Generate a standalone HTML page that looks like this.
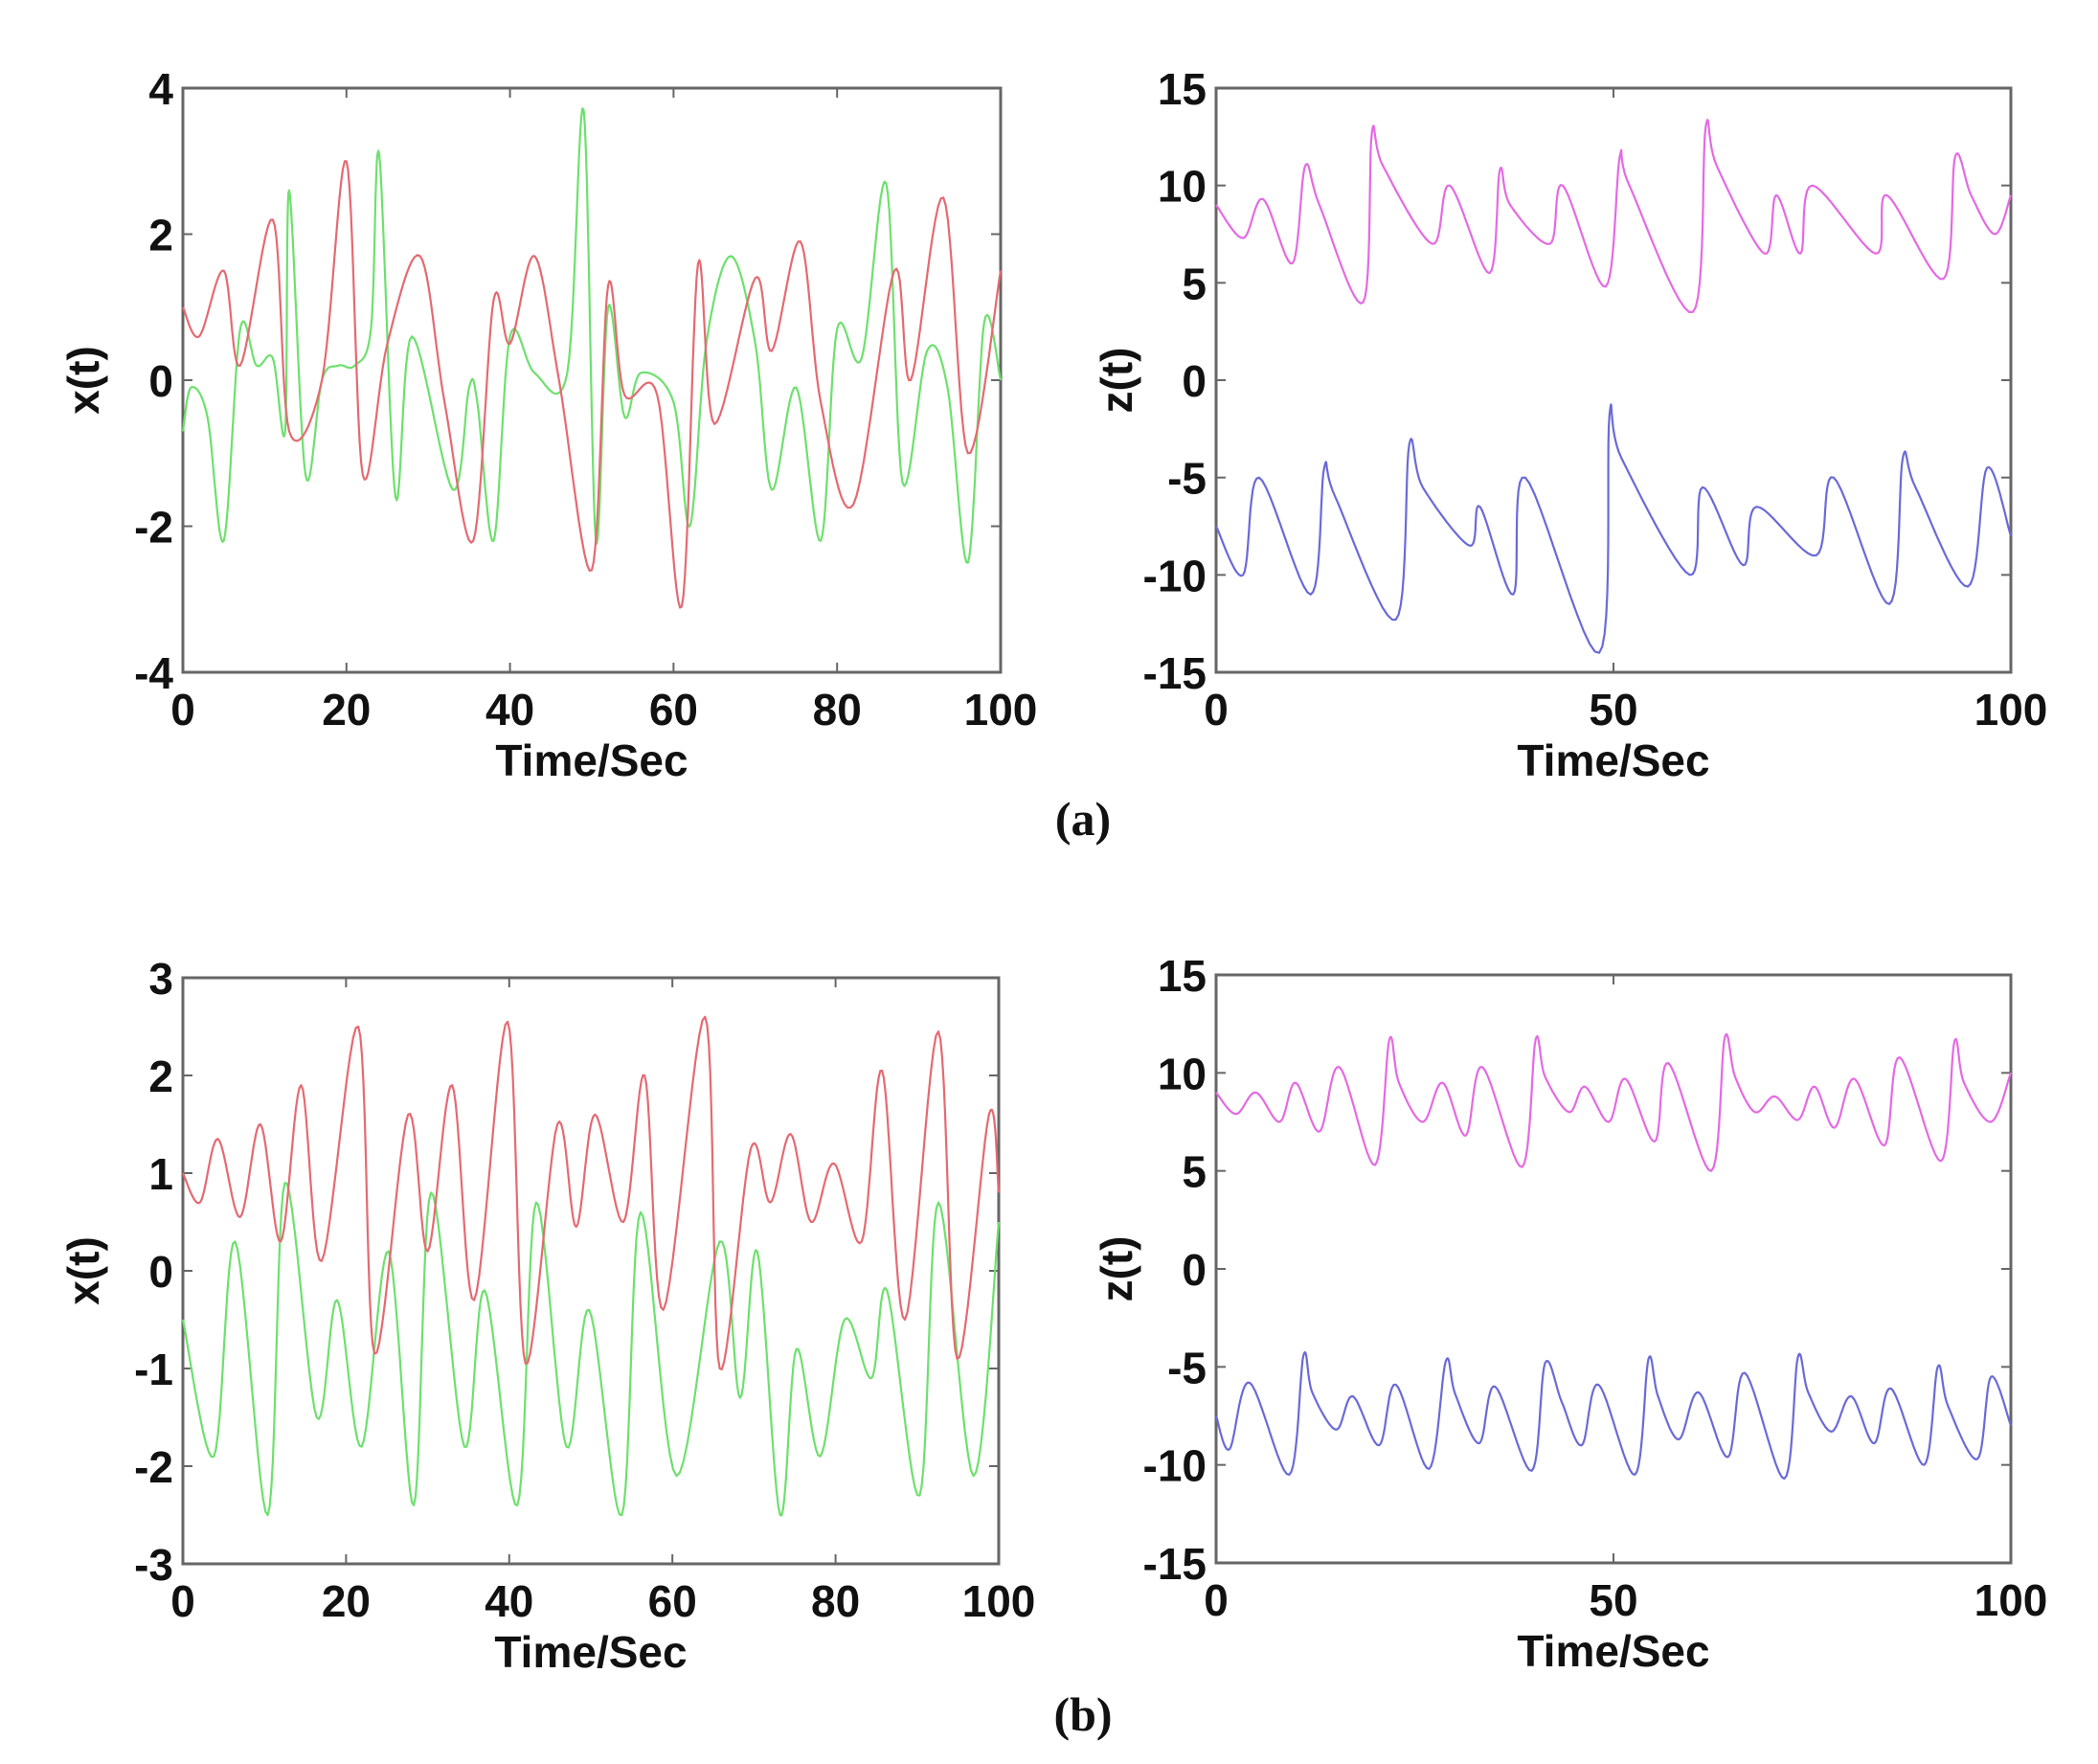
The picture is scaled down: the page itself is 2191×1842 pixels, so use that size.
<!DOCTYPE html>
<html><head><meta charset="utf-8"><style>
html,body{margin:0;padding:0;background:#fff;}
svg{display:block;}
text{font-family:"Liberation Sans",Arial,sans-serif;font-weight:bold;fill:#111;}
.cap{font-family:"Liberation Serif",serif;font-weight:bold;}
</style></head><body>
<svg id="s" width="2191" height="1842" viewBox="0 0 2191 1842" xmlns="http://www.w3.org/2000/svg"></svg>
<script>
const S=document.getElementById('s');const NS='http://www.w3.org/2000/svg';
function el(n,a,t){const e=document.createElementNS(NS,n);for(const k in a)e.setAttribute(k,a[k]);if(t!==undefined)e.textContent=t;S.appendChild(e);return e;}
function axes(o){
 const {x0,x1,y0,y1,xmin,xmax,ymin,ymax,xt,yt,ylab}=o;
 const X=v=>x0+(v-xmin)/(xmax-xmin)*(x1-x0), Y=v=>y1-(v-ymin)/(ymax-ymin)*(y1-y0);
 o.X=X;o.Y=Y;
 el('rect',{x:x0,y:y0,width:x1-x0,height:y1-y0,fill:'#fff',stroke:'#666','stroke-width':3});
 xt.forEach(v=>{el('line',{x1:X(v),x2:X(v),y1:y1,y2:y1-10,stroke:'#666','stroke-width':2});el('line',{x1:X(v),x2:X(v),y1:y0,y2:y0+10,stroke:'#666','stroke-width':2});
  el('text',{x:X(v),y:y1+55,'font-size':46,'text-anchor':'middle'},v);});
 yt.forEach(v=>{el('line',{x1:x0,x2:x0+10,y1:Y(v),y2:Y(v),stroke:'#666','stroke-width':2});el('line',{x1:x1,x2:x1-10,y1:Y(v),y2:Y(v),stroke:'#666','stroke-width':2});
  el('text',{x:x0-10,y:Y(v)+17,'font-size':46,'text-anchor':'end'},v);});
 el('text',{x:(x0+x1)/2,y:y1+108,'font-size':46,'text-anchor':'middle'},'Time/Sec');
 const cy=(y0+y1)/2, cx=x0-88;
 el('text',{x:cx,y:cy,'font-size':46,'text-anchor':'middle',transform:`rotate(-90 ${cx} ${cy})`},ylab);
 return o;
}
function series(o,pts,col){
 let d='';const P=pts;
 for(let i=0;i<P.length-1;i++){
  const p0=P[Math.max(0,i-1)],p1=P[i],p2=P[i+1],p3=P[Math.min(P.length-1,i+2)];
  for(let s=0;s<12;s++){const t=s/12,t2=t*t,t3=t2*t;
   const f=(a,b,c,e)=>0.5*((2*b)+(-a+c)*t+(2*a-5*b+4*c-e)*t2+(-a+3*b-3*c+e)*t3);
   let tx=f(p0[0],p1[0],p2[0],p3[0]),ty=f(p0[1],p1[1],p2[1],p3[1]);
   d+=(d?'L':'M')+o.X(tx).toFixed(1)+','+o.Y(ty).toFixed(1);}
 }
 const L=P[P.length-1];d+='L'+o.X(L[0]).toFixed(1)+','+o.Y(L[1]).toFixed(1);
 el('path',{d:d,fill:'none',stroke:col,'stroke-width':2.2,'stroke-linejoin':'round'});
}
const R='#e46a72',G='#6ee06e',M='#e46ae4',B='#6a6ad8';
let a1=axes({x0:191,x1:1045,y0:92,y1:702,xmin:0,xmax:100,ymin:-4,ymax:4,xt:[0,20,40,60,80,100],yt:[4,2,0,-2,-4],ylab:'x(t)'});
series(a1,[[0,-0.7],[1,-0.1],[3,-0.5],[5,-2.2],[7,0.7],[9,0.2],[11,0.3],[12.5,-0.7],[13,2.6],[15,-1.3],[17,0],[19,0.2],[21,0.2],[23,0.7],[24,3.1],[26,-1.6],[28,0.6],[33,-1.5],[35,-0.1],[36,-0.3],[38,-2.2],[40,0.6],[43,0.1],[47,0.1],[49,3.7],[50.5,-2.2],[52,1],[54,-0.5],[56,0.1],[60,-0.3],[62,-2],[64,0.5],[67,1.7],[70,0.5],[72,-1.5],[75,-0.1],[78,-2.2],[80,0.7],[83,0.3],[86,2.7],[88,-1.4],[91,0.4],[93.5,-0.1],[96,-2.5],[98,0.8],[100,0]],G);
series(a1,[[0,1],[2,0.6],[5,1.5],[7,0.2],[11,2.2],[13,-0.7],[17,0],[20,3],[22,-1.3],[25,0.5],[29,1.7],[32,-0.3],[35.5,-2.2],[38,1.1],[40,0.5],[43,1.7],[46,0],[50,-2.6],[52,1.3],[54,-0.2],[58,-0.2],[61,-3.1],[63,1.6],[65,-0.6],[70,1.4],[72,0.4],[75.5,1.9],[78,-0.3],[82,-1.7],[87,1.5],[89,0],[93,2.5],[96,-1],[100,1.5]],R);
let a2=axes({x0:1270,x1:2100,y0:92,y1:702,xmin:0,xmax:100,ymin:-15,ymax:15,xt:[0,50,100],yt:[15,10,5,0,-5,-10,-15],ylab:'z(t)'});
series(a2,[[0,9],[3.4,7.3],[5.9,9.3],[9.6,6],[11.2,11],[13,9],[18.5,4],[19.6,12.7],[21,11],[27.2,7],[29.4,10],[34.4,5.5],[35.7,10.8],[37,9],[42,7],[43.6,10],[49,4.8],[50.8,11.5],[52,10],[60,3.5],[61.6,13],[63,11],[69,6.5],[70.5,9.5],[73.5,6.5],[75,10],[83,6.5],[84.4,9.5],[91.5,5.2],[93,11.5],[95,9.5],[98,7.5],[100,9.5]],M);
series(a2,[[0,-7.5],[3.4,-10],[5.4,-5],[11.9,-11],[13.6,-4.5],[15,-6],[22.6,-12.3],[24.3,-3.3],[26,-5.5],[31.9,-8.5],[33.2,-6.5],[37.4,-11],[38.9,-5],[48.2,-14],[49.5,-1.8],[51,-4],[59.6,-10],[61.2,-5.5],[66.3,-9.5],[68,-6.5],[75.5,-9],[77.7,-5],[84.7,-11.5],[86.4,-4],[88,-5.5],[94.6,-10.6],[97,-4.5],[100,-8]],B);
el('text',{x:1131,y:872,'font-size':50,'text-anchor':'middle',class:'cap'},'(a)');
let b1=axes({x0:191,x1:1043,y0:1021,y1:1633,xmin:0,xmax:100,ymin:-3,ymax:3,xt:[0,20,40,60,80,100],yt:[3,2,1,0,-1,-2,-3],ylab:'x(t)'});
series(b1,[[0,-0.5],[3.8,-1.9],[6.4,0.3],[10.4,-2.5],[12.5,0.9],[16.4,-1.5],[18.9,-0.3],[21.9,-1.8],[25.2,0.2],[28.3,-2.4],[30.4,0.8],[34.5,-1.8],[37,-0.2],[41,-2.4],[43.3,0.7],[47,-1.8],[49.8,-0.4],[53.8,-2.5],[56.1,0.6],[60.5,-2.1],[65.8,0.3],[68.3,-1.3],[70.4,0.2],[73.2,-2.5],[75.2,-0.8],[78.1,-1.9],[81.1,-0.5],[84.4,-1.1],[86.3,-0.2],[90.3,-2.3],[92.6,0.7],[96.9,-2.1],[100,0.5]],G);
series(b1,[[0,1],[2.1,0.7],[4.3,1.35],[7,0.55],[9.5,1.5],[12,0.3],[14.5,1.9],[17,0.1],[21.5,2.5],[23.5,-0.85],[27.6,1.6],[30,0.2],[33,1.9],[35.7,-0.3],[39.8,2.55],[42,-0.95],[45.9,1.5],[48.2,0.45],[50.5,1.6],[54,0.5],[56.6,2],[58.9,-0.4],[64,2.6],[65.8,-1],[69.6,1.25],[72,0.7],[74.5,1.4],[77,0.5],[79.8,1.1],[83.2,0.3],[85.7,2.05],[88.5,-0.5],[92.6,2.45],[94.9,-0.9],[98.8,1.6],[100,0.8]],R);
let b2=axes({x0:1270,x1:2100,y0:1018,y1:1632,xmin:0,xmax:100,ymin:-15,ymax:15,xt:[0,50,100],yt:[15,10,5,0,-5,-10,-15],ylab:'z(t)'});
series(b2,[[0,9],[2.5,7.9],[5,9],[8,7.5],[10,9.5],[13,7],[15.5,10.3],[20,5.3],[21.8,11.7],[23,9.5],[26,7.5],[28.5,9.5],[31.4,6.8],[33.5,10.3],[38.5,5.2],[40.2,11.7],[41.4,9.8],[44.4,8],[46.4,9.3],[49.4,7.5],[51.5,9.7],[55.2,6.5],[56.9,10.5],[62.3,5],[64,11.8],[65.3,9.8],[67.8,8],[70.3,8.8],[73.2,7.6],[75.3,9.3],[77.8,7.2],[80.3,9.7],[84.1,6.3],[86,10.8],[91.2,5.5],[92.9,11.6],[94.1,9.5],[97.5,7.5],[100,10]],M);
series(b2,[[0,-7.5],[1.7,-9.2],[4.2,-5.8],[9.2,-10.5],[11,-4.4],[12.1,-6.3],[15.1,-8.2],[17.2,-6.5],[20.5,-9],[22.6,-5.9],[26.8,-10.2],[28.9,-4.7],[30.1,-6.4],[33.1,-8.9],[35.1,-6],[39.7,-10.3],[41.4,-4.8],[43.5,-6.8],[46,-9],[48.1,-5.9],[52.7,-10.5],[54.4,-4.6],[55.6,-6.5],[58.2,-8.7],[60.7,-6.3],[64.4,-9.6],[66.5,-5.3],[71.5,-10.7],[73.2,-4.5],[74.5,-6.3],[77.4,-8.3],[79.9,-6.5],[82.8,-8.9],[84.9,-6.1],[89.1,-10],[90.8,-5],[92.1,-7],[95.8,-9.7],[97.5,-5.5],[100,-8]],B);
el('text',{x:1131,y:1807,'font-size':50,'text-anchor':'middle',class:'cap'},'(b)');
</script>
</body></html>
